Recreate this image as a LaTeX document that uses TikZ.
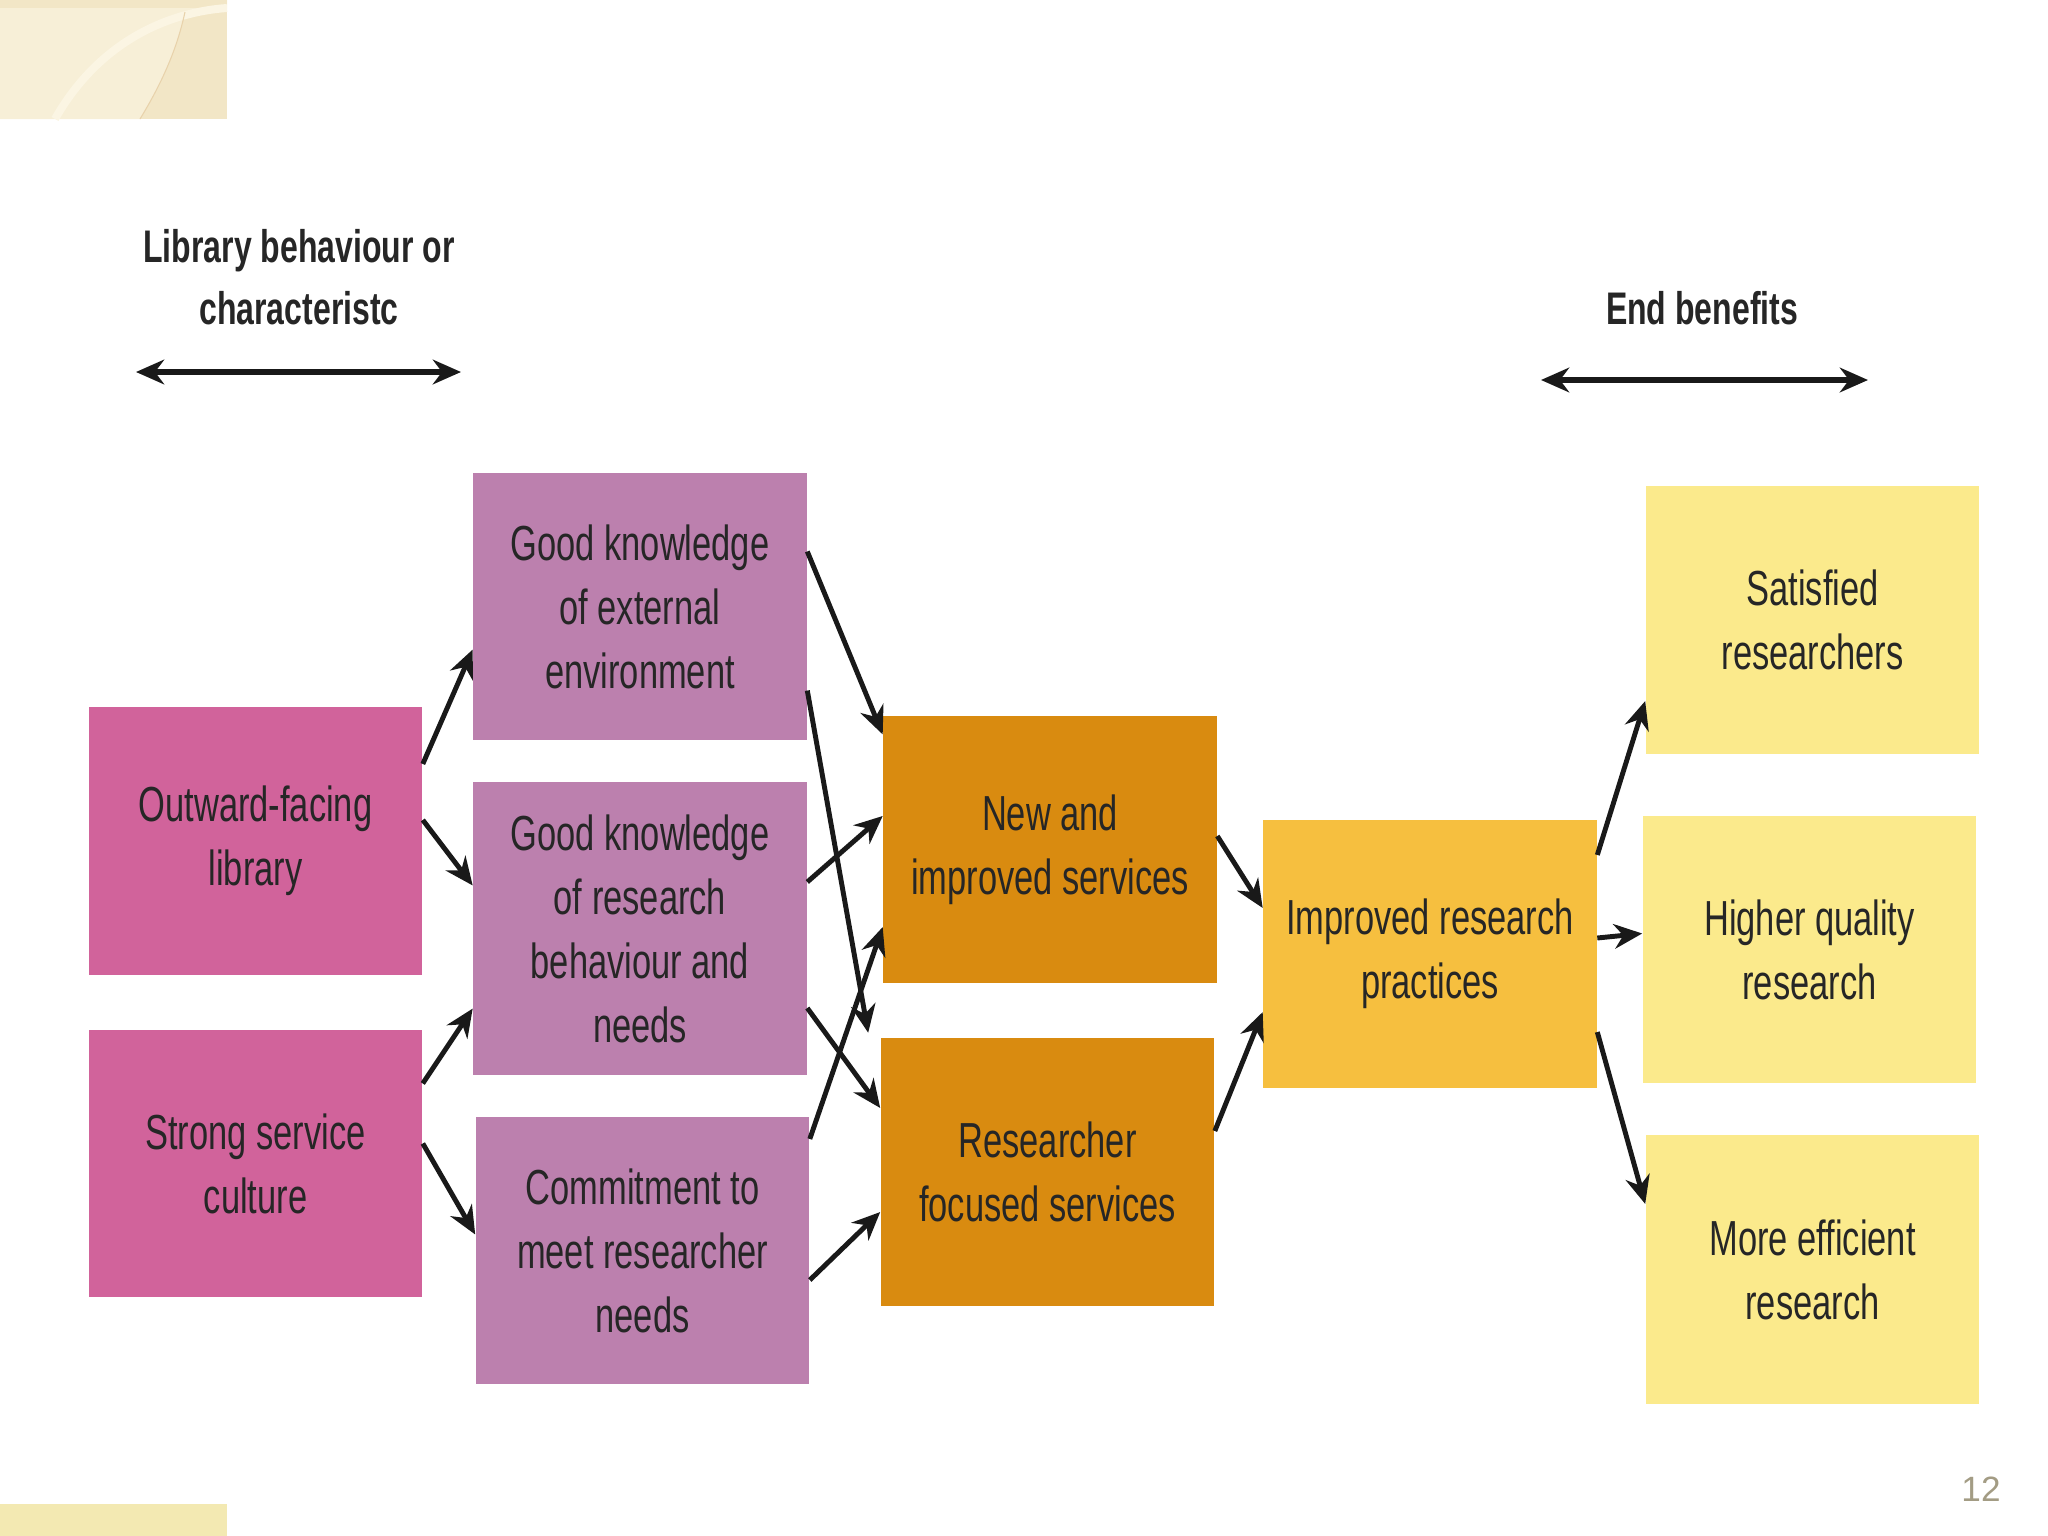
\documentclass[tikz,border=0pt]{standalone}
\usepackage{fontspec}
\setmainfont{Liberation Sans}[FakeStretch=0.7]
\newfontfamily\pagefont{Liberation Sans}
\usepackage{xcolor}
\usetikzlibrary{arrows.meta}

\definecolor{outpink}{HTML}{D1639B}
\definecolor{knowmauve}{HTML}{BC80AE}
\definecolor{servorange}{HTML}{D98B10}
\definecolor{practgold}{HTML}{F6BF3F}
\definecolor{benefyellow}{HTML}{FBEA8C}
\definecolor{paper}{HTML}{F2E6C6}
\definecolor{paperlight}{HTML}{FBF5E3}
\definecolor{pagegray}{HTML}{A39C84}
\definecolor{ink}{HTML}{262626}

\tikzset{
  box/.style={rectangle, minimum width=3.33cm, minimum height=2.67cm, align=center,
    inner sep=2pt, text=ink, font=\fontsize{14}{18.2}\selectfont},
  head/.style={align=center, text=ink, font=\fontsize{13}{17.6}\selectfont\bfseries},
  flow/.style={-{Stealth[length=8pt,width=7pt]}, line width=1.4pt, draw=black!90},
  span/.style={{Stealth[length=8pt,width=7pt]}-{Stealth[length=8pt,width=7pt]}, line width=1.6pt, draw=black!90},
}

\begin{document}
\begin{tikzpicture}[x=0.01cm, y=-0.01cm]
\useasboundingbox (0,0) rectangle (2048,1536);

% slide decoration
\fill[paper] (0,0) rectangle (227,119);
\fill[paperlight!60!paper] (140,119) .. controls (170,70) and (180,35) .. (185,12)
  -- (227,8) -- (227,0) -- (0,0) -- (0,119) -- cycle;
\fill[paper] (0,0) rectangle (227,8);
\draw[paperlight, line width=0.8mm] (55,119) .. controls (100,40) and (170,12) .. (227,8);
\draw[paper!80!brown, line width=0.3pt] (140,119) .. controls (170,70) and (180,35) .. (185,12);
\fill[paper!90!yellow] (0,1504) rectangle (227,1536);
\node[text=pagegray, font=\pagefont\fontsize{10}{12}\selectfont] (page) at (1981,1489) {12};

% headers
\node[head] (libhead) at (299,277) {Library behaviour or\\characteristc};
\coordinate (libL) at (136,372);
\coordinate (libR) at (461,372);
\draw[span] (libL) -- (libR);

\node[head] (endhead) at (1702,308) {End benefits};
\coordinate (endL) at (1541,380);
\coordinate (endR) at (1868,380);
\draw[span] (endL) -- (endR);

% library behaviour
\node[box, fill=outpink] (out) at (255.5,841) {Outward-facing\\library};
\node[box, fill=outpink] (str) at (255.5,1163.5) {Strong service\\culture};

\node[box, fill=knowmauve] (gke) at (640,606.5) {Good knowledge\\of external\\environment};
\node[box, fill=knowmauve, minimum height=2.93cm] (gkr) at (640,928.5) {Good knowledge\\of research\\behaviour and\\needs};
\node[box, fill=knowmauve] (com) at (642.5,1250.5) {Commitment to\\meet researcher\\needs};

% services
\node[box, fill=servorange] (new) at (1050,849.5) {New and\\improved services};
\node[box, fill=servorange] (res) at (1047.5,1172) {Researcher\\focused services};

\node[box, fill=practgold] (imp) at (1430,954) {Improved research\\practices};

% end benefits
\node[box, fill=benefyellow] (sat) at (1812.5,620) {Satisfied\\researchers};
\node[box, fill=benefyellow] (hig) at (1809.5,949.5) {Higher quality\\research};
\node[box, fill=benefyellow, minimum height=2.69cm] (eff) at (1812.5,1269.5) {More efficient\\research};

\draw[flow] ([yshift=7.7mm]out.east) -- ([yshift=-4.3mm]gke.west);
\draw[flow] ([yshift=2.1mm]out.east) -- ([yshift=4.3mm]gkr.west);
\draw[flow] ([yshift=8mm]str.east) -- ([yshift=-8mm]gkr.west);
\draw[flow] ([yshift=2mm]str.east) -- ([yshift=1.6mm]com.west);

\draw[flow] ([yshift=5.5mm]gke.east) -- ([yshift=11.5mm]new.west);
\draw[flow] ([yshift=-8.4mm]gke.east) -- ([xshift=-1.2mm,yshift=0.5mm]res.north west);
\draw[flow] ([yshift=4.65mm]gkr.east) -- ([yshift=3.35mm]new.west);
\draw[flow] ([yshift=-7.95mm]gkr.east) -- ([yshift=6.4mm]res.west);
\draw[flow] ([yshift=11.15mm]com.east) -- ([yshift=-7.75mm]new.west);
\draw[flow] ([yshift=-2.95mm]com.east) -- ([yshift=-4mm]res.west);

\draw[flow] ([yshift=1.35mm]new.east) -- ([yshift=4.6mm]imp.west);
\draw[flow] ([yshift=4.1mm]res.east) -- ([yshift=-5.8mm]imp.west);

\draw[flow] ([yshift=9.9mm]imp.east) -- ([yshift=-8.1mm]sat.west);
\draw[flow] ([yshift=1.6mm]imp.east) -- ([yshift=1.6mm]hig.west);
\draw[flow] ([yshift=-7.8mm]imp.east) -- ([yshift=6.55mm]eff.west);

\end{tikzpicture}
\end{document}
